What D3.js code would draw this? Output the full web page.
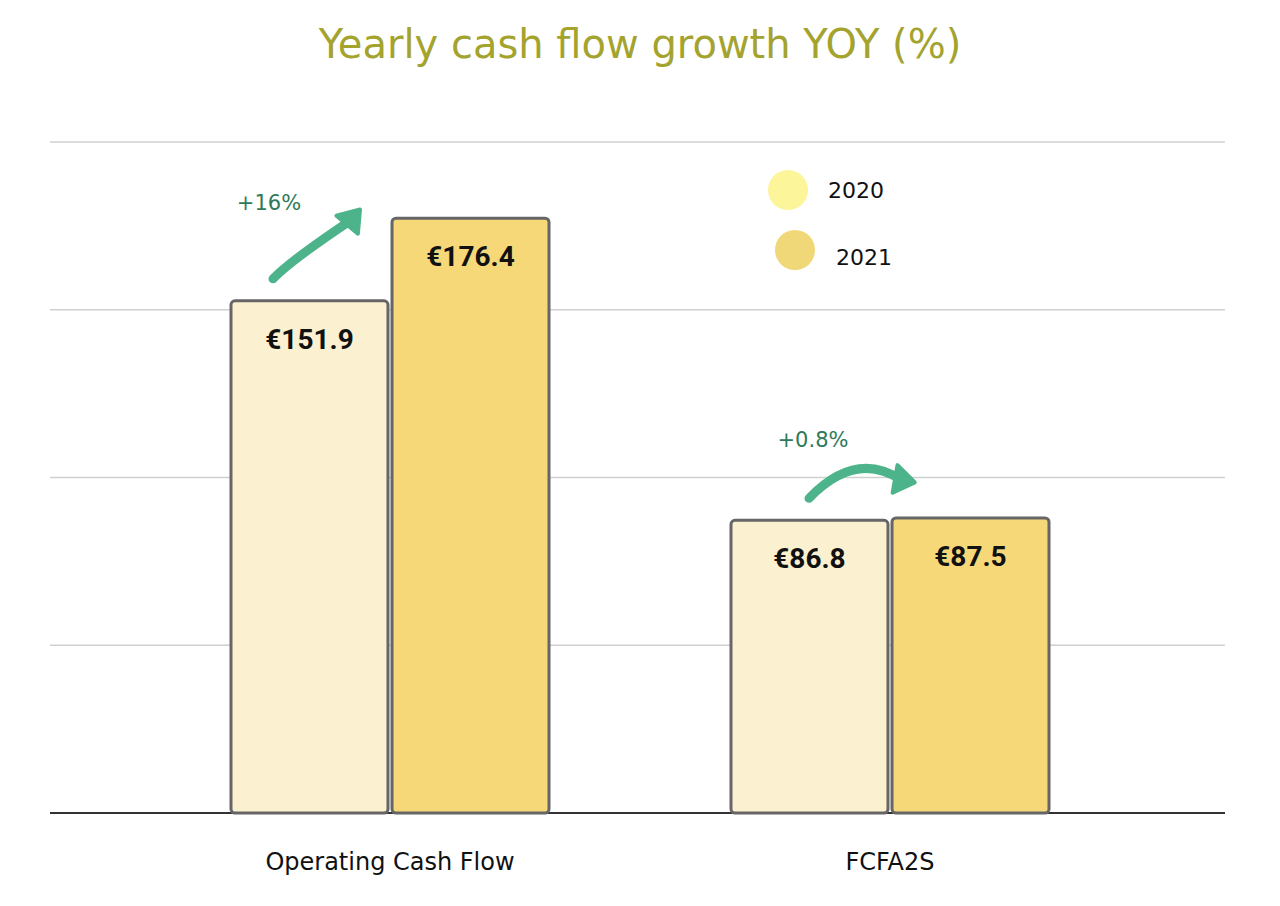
<!DOCTYPE html>
<html><head><meta charset="utf-8">
<script src="https://cdn.jsdelivr.net/npm/d3@7"></script>
<style>body{margin:0;background:#fff}</style>
</head><body>
<svg id="chart" width="1280" height="906"></svg>
<script>
var categories = ["Operating Cash Flow", "FCFA2S"];
var years = ["2020", "2021"];
var values2020 = [151.9, 86.8];
var values2021 = [176.4, 87.5];
var growth = ["+16%", "+0.8%"];
var gridTicks = [0, 50, 100, 150, 200];

var svg = d3.select("#chart");
var hand = "'Comic Sans MS', 'DejaVu Sans', sans-serif";

var y = d3.scaleLinear().domain([0, 199]).range([813, 142]);
var x0 = d3.scaleBand().domain(categories).range([140, 1140]).paddingInner(0);
var x1 = d3.scaleBand().domain(years).range([0, 318]).paddingInner(0.025);
var colors = {"2020": "#fbf0d0", "2021": "#f6d878"};

svg.append("text").attr("x", 640).attr("y", 58).attr("text-anchor", "middle")
    .attr("font-family", hand).attr("font-size", 40).attr("fill", "#a3a32e")
    .text("Yearly cash flow growth YOY (%)");

// grid
svg.selectAll(".grid").data(gridTicks).enter().append("line")
    .attr("x1", 50).attr("x2", 1225)
    .attr("y1", function (d) { return y(d * 199 / 200); }).attr("y2", function (d) { return y(d * 199 / 200); })
    .attr("stroke", function (d) { return d == 0 ? "#333" : "#d0d0d0"; })
    .attr("stroke-width", function (d) { return d == 0 ? 2 : 1.5; });

categories.forEach(function (c, i) {
    var g = svg.append("g").attr("transform", "translate(" + (x0(c) + (x0.bandwidth() - 318) / 2) + ",0)");
    var vals = [values2020[i], values2021[i]];
    years.forEach(function (yr, j) {
        g.append("rect").attr("x", x1(yr)).attr("y", y(vals[j]))
            .attr("width", x1.bandwidth()).attr("height", 813 - y(vals[j]))
            .attr("rx", 4).attr("fill", colors[yr]).attr("stroke", "#666").attr("stroke-width", 3);
        g.append("text").attr("x", x1(yr) + x1.bandwidth() / 2).attr("y", y(vals[j]) + 48)
            .attr("text-anchor", "middle").attr("font-family", "Roboto, sans-serif")
            .attr("font-weight", "bold").attr("font-size", 28).attr("fill", "#111")
            .text("€" + vals[j]);
    });
    // growth arrow: start above 2020 bar, end near the 2021 bar
    var sx, sy, ex, ey, cx, cy, ang;
    if (i == 0) {
        sx = 42; sy = y(vals[0]) - 22; ex = 120; ey = y(vals[1]) + 2; cx = 60; cy = ey + 40; ang = -50;
    } else {
        sx = 78; sy = y(vals[0]) - 22; ex = 170; ey = y(vals[1]) - 38; cx = 125; cy = ey - 30; ang = 10;
    }
    g.append("path").attr("d", "M" + sx + "," + sy + " Q" + cx + "," + cy + " " + ex + "," + ey)
        .attr("fill", "none").attr("stroke", "#4cb38a")
        .attr("stroke-width", 9).attr("stroke-linecap", "round");
    g.append("polygon").attr("points", "-6,-14 14,0 -6,14")
        .attr("transform", "translate(" + ex + "," + ey + ") rotate(" + ang + ")")
        .attr("fill", "#4cb38a").attr("stroke", "#4cb38a").attr("stroke-width", 4).attr("stroke-linejoin", "round");
    g.append("text").attr("x", i == 0 ? 38 : 82).attr("y", i == 0 ? 210 : 447)
        .attr("text-anchor", "middle").attr("font-family", hand).attr("font-size", 21)
        .attr("fill", "#2e7a5a").text(growth[i]);
    // category label
    svg.append("text").attr("x", x0(c) + x0.bandwidth() / 2).attr("y", 870)
        .attr("text-anchor", "middle").attr("font-family", hand).attr("font-size", 24)
        .attr("fill", "#111").text(c);
});

// legend
var legend = [{yr: "2020", cx: 788, cy: 190, col: "#fdf59a", tx: 828, ty: 198},
              {yr: "2021", cx: 795, cy: 250, col: "#f0d878", tx: 836, ty: 265}];
legend.forEach(function (l) {
    svg.append("circle").attr("cx", l.cx).attr("cy", l.cy).attr("r", 20).attr("fill", l.col);
    svg.append("text").attr("x", l.tx).attr("y", l.ty).attr("font-family", hand)
        .attr("font-size", 22).attr("fill", "#111").text(l.yr);
});
</script>
</body></html>
